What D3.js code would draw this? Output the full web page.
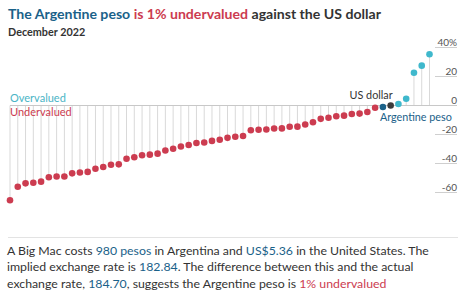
<!DOCTYPE html>
<html>
  <head>
    <script src="https://cdnjs.cloudflare.com/ajax/libs/d3/7.8.5/d3.min.js"></script>
<style>
  body { margin: 0; background: #fff; }
  svg { font-family: Lato, "Open Sans", sans-serif; }
</style>
  </head>
  <body>
    <div id="vis"></div>

    <script type="text/javascript">

        // misvaluation against the US dollar, %, sorted low to high
        const values = [-65.3, -56.0, -53.7, -53.3, -52.5, -49.5, -49.0, -49.0, -46.8, -46.2,
                        -45.8, -43.6, -42.4, -40.9, -40.6, -36.7, -35.7, -34.3, -33.9, -33.2,
                        -31.0, -29.8, -28.3, -27.2, -25.9, -25.5, -24.4, -23.6, -22.3, -21.6,
                        -21.0, -17.1, -16.7, -16.5, -15.9, -15.8, -14.7, -14.6, -13.1, -11.5,
                        -9.2, -8.5, -7.4, -7.0, -5.9, -5.6, -4.5, -1.5, -1.0, 0.0,
                        1.0, 4.7, 22.6, 27.5, 35.3];
        // country labels, only the two highlighted ones are named on the chart
        const countries = values.map((v, i) => "country " + (i + 1));
        countries[48] = "Argentina";
        countries[49] = "United States";

        const yTicks = [40, 20, 0, -20, -40, -60];

        const width = 474;
        const height = 298;
        const svg = d3.select("#vis").append("svg")
            .attr("width", width)
            .attr("height", height);

        const red = "#cc3c50";
        const teal = "#3fb8cc";
        const blue = "#1a6189";
        const dark = "#333333";

        // title block
        const title = svg.append("text").attr("x", 8).attr("y", 19)
            .style("font-size", "14.1px").style("font-weight", 700);
        title.append("tspan").attr("fill", blue).text("The Argentine peso ");
        title.append("tspan").attr("fill", red).text("is 1% undervalued ");
        title.append("tspan").attr("fill", dark).text("against the US dollar");

        svg.append("text").attr("x", 8).attr("y", 36)
            .style("font-size", "10.8px").style("font-weight", 700).attr("fill", dark)
            .text("December 2022");

        var x = d3.scalePoint().domain(countries).range([10, 429.5]);
        var y = d3.scaleLinear().domain([-60, 40]).range([192.5, 47.5]);

        // right hand axis: short gridlines with labels above them
        var axis = svg.append("g").attr("id", "axis");
        axis.selectAll("line")
            .data(yTicks.filter(d => d != 0))
            .join("line")
            .attr("x1", 435).attr("x2", 457)
            .attr("y1", d => y(d)).attr("y2", d => y(d))
            .attr("stroke", "#cfcfcf").attr("stroke-width", 1);
        axis.selectAll("text")
            .data(yTicks)
            .join("text")
            .attr("x", 457).attr("y", d => y(d) - 2)
            .attr("text-anchor", "end")
            .style("font-size", "10px")
            .attr("fill", "#555")
            .text(d => d == 40 ? "40%" : d);

        // stems
        svg.append("g").attr("id", "stems")
            .selectAll("line")
            .data(values)
            .join("line")
            .attr("x1", (d, i) => x(countries[i])).attr("x2", (d, i) => x(countries[i]))
            .attr("y1", y(0)).attr("y2", d => y(d))
            .attr("stroke", "#d9d9d9").attr("stroke-width", 1);

        // zero line
        svg.append("line")
            .attr("x1", 10).attr("x2", 457)
            .attr("y1", y(0)).attr("y2", y(0))
            .attr("stroke", "#c8c8c8").attr("stroke-width", 1);

        function dotColour(d, i) {
            if (countries[i] == "Argentina") return blue;
            if (countries[i] == "United States") return "#3b3b3b";
            return d > 0 ? teal : red;
        }

        svg.append("g").attr("id", "dots")
            .selectAll("circle")
            .data(values)
            .join("circle")
            .attr("cx", (d, i) => x(countries[i]))
            .attr("cy", d => y(d))
            .attr("r", 3.3)
            .attr("fill", dotColour);

        // annotations
        svg.append("text").attr("x", 10).attr("y", 101.5)
            .style("font-size", "11px").attr("fill", "#4ab5c6").text("Overvalued");
        svg.append("text").attr("x", 10).attr("y", 116)
            .style("font-size", "11px").attr("fill", red).text("Undervalued");
        svg.append("text").attr("x", x("United States") + 2).attr("y", 99)
            .attr("text-anchor", "end")
            .style("font-size", "10.8px").attr("fill", dark).text("US dollar");
        svg.append("text").attr("x", x("Argentina") - 3).attr("y", 120.5)
            .style("font-size", "10.8px").attr("fill", blue).text("Argentine peso");

        // footnote
        svg.append("line")
            .attr("x1", 8).attr("x2", 458).attr("y1", 237.5).attr("y2", 237.5)
            .attr("stroke", "#e3e3e3").attr("stroke-width", 1);

        const lines = [
            [["A Big Mac costs ", dark], ["980 pesos", blue], [" in Argentina and ", dark], ["US$5.36", blue], [" in the United States. The", dark]],
            [["implied exchange rate is ", dark], ["182.84", blue], [". The difference between this and the actual", dark]],
            [["exchange rate, ", dark], ["184.70", blue], [", suggests the Argentine peso is ", dark], ["1% undervalued", red]]
        ];
        lines.forEach((parts, i) => {
            var t = svg.append("text").attr("x", 7).attr("y", 255 + i * 16.3)
                .style("font-size", "12.3px");
            parts.forEach(p => t.append("tspan").attr("fill", p[1]).text(p[0]));
        });

    </script>
  </body>
</html>
